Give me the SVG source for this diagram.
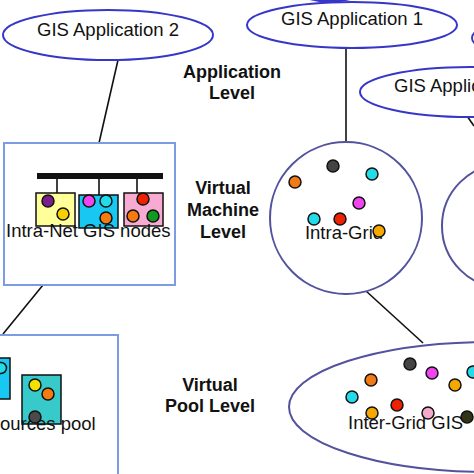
<svg xmlns="http://www.w3.org/2000/svg" width="474" height="474" viewBox="0 0 474 474">
<style>
.app{fill:#fff;stroke:#3636c8;stroke-width:2}
.grid{fill:#fff;stroke:#52529e;stroke-width:2}
.pool{fill:#fff;stroke:#7b9be2;stroke-width:2}
.lbl{font-family:"Liberation Sans",Arial,sans-serif;font-size:18.5px;fill:#111}
.lvl{font-family:"Liberation Sans",Arial,sans-serif;font-size:18px;font-weight:bold;fill:#111;text-anchor:middle}
.dot{stroke:#111;stroke-width:1.5}
.box{stroke:#111;stroke-width:1.5}
.ln{stroke:#111;stroke-width:1.6;fill:none}
</style>
<rect width="474" height="474" fill="#fff"/>
<g id="connectors">
<line class="ln" x1="118" y1="60" x2="99" y2="143"/>
<line class="ln" x1="346" y1="48" x2="346" y2="143"/>
<line class="ln" x1="43" y1="285" x2="3" y2="334"/>
<line class="ln" x1="366" y1="291" x2="423" y2="343"/>
<line class="ln" x1="467" y1="116" x2="474" y2="126"/>
</g>
<g id="top-partial">
<ellipse cx="330" cy="-22" rx="44" ry="23" fill="none" stroke="#3636c8" stroke-width="3"/>
<ellipse cx="562" cy="38" rx="90" ry="22" class="app"/>
</g>
<g id="app2">
<ellipse cx="108" cy="35" rx="105" ry="25" class="app"/>
<text class="lbl" x="108" y="36" text-anchor="middle">GIS Application 2</text>
</g>
<g id="app1">
<ellipse cx="352" cy="25" rx="105" ry="23" class="app"/>
<text class="lbl" x="352" y="25" text-anchor="middle">GIS Application 1</text>
</g>
<g id="app3">
<ellipse cx="470" cy="92" rx="110" ry="25" class="app"/>
<text class="lbl" x="394" y="92">GIS Applic</text>
</g>
<g id="level-labels">
<text class="lvl" x="232" y="78">Application</text>
<text class="lvl" x="232" y="99">Level</text>
<text class="lvl" x="223" y="194">Virtual</text>
<text class="lvl" x="223" y="216">Machine</text>
<text class="lvl" x="223" y="238">Level</text>
<text class="lvl" x="210" y="391">Virtual</text>
<text class="lvl" x="210" y="412">Pool Level</text>
</g>
<g id="intranet">
<rect x="4" y="143" width="171" height="142" class="pool"/>
<rect x="37" y="173" width="126" height="6" fill="#111"/>
<line class="ln" x1="57" y1="179" x2="57" y2="193"/>
<line class="ln" x1="99" y1="179" x2="99" y2="195"/>
<line class="ln" x1="137" y1="179" x2="137" y2="193"/>
<rect x="36" y="193" width="39" height="33" fill="#ffff99" class="box"/>
<rect x="79" y="195" width="39" height="33" fill="#19c8f2" class="box"/>
<rect x="124" y="193" width="39" height="33" fill="#f7abd2" class="box"/>
<circle cx="48" cy="201" r="6" fill="#7a1e8c" class="dot"/>
<circle cx="63" cy="214" r="6" fill="#f7d000" class="dot"/>
<circle cx="89" cy="201" r="6" fill="#f044f0" class="dot"/>
<circle cx="106" cy="201" r="6" fill="#22dcea" class="dot"/>
<circle cx="106" cy="218" r="6" fill="#f57a10" class="dot"/>
<circle cx="143" cy="199" r="6" fill="#ee2200" class="dot"/>
<circle cx="133" cy="216" r="6" fill="#f57a10" class="dot"/>
<circle cx="153" cy="216" r="6" fill="#109a20" class="dot"/>
<text class="lbl" x="6" y="237">Intra-Net GIS nodes</text>
</g>
<g id="intragrid">
<circle cx="346" cy="218" r="76" class="grid"/>
<circle cx="333" cy="166" r="6" fill="#444" class="dot"/>
<circle cx="295" cy="182" r="6" fill="#f07a14" class="dot"/>
<circle cx="372" cy="174" r="6" fill="#22dcea" class="dot"/>
<circle cx="359" cy="203" r="6" fill="#f044f0" class="dot"/>
<circle cx="314" cy="219" r="6" fill="#22dcea" class="dot"/>
<circle cx="340" cy="219" r="6" fill="#ee2200" class="dot"/>
<text class="lbl" x="344" y="239" text-anchor="middle">Intra-Grid</text>
<circle cx="379" cy="231" r="6" fill="#f5a800" class="dot"/>
</g>
<g id="grid-right">
<circle cx="504" cy="226" r="62" class="grid"/>
</g>
<g id="resources">
<rect x="-10" y="335" width="128" height="150" class="pool"/>
<rect x="-10" y="358" width="20" height="41" fill="#19c8f2" class="box"/>
<circle cx="1" cy="368" r="5.5" fill="#22dcea" class="dot"/>
<rect x="22" y="375" width="39" height="49" fill="#38caca" class="box"/>
<circle cx="35" cy="385" r="6" fill="#f5e000" class="dot"/>
<circle cx="48" cy="394" r="6" fill="#f57a10" class="dot"/>
<text class="lbl" x="0" y="430">ources pool</text>
<circle cx="35" cy="417" r="6" fill="#4a4a4a" class="dot"/>
</g>
<g id="intergrid">
<ellipse cx="490" cy="407" rx="201" ry="65" class="grid"/>
<circle cx="410" cy="364" r="6" fill="#444" class="dot"/>
<circle cx="432" cy="373" r="6" fill="#f044f0" class="dot"/>
<circle cx="473" cy="372" r="6" fill="#22dcea" class="dot"/>
<circle cx="371" cy="380" r="6" fill="#f07a14" class="dot"/>
<circle cx="455" cy="385" r="6" fill="#f5a800" class="dot"/>
<circle cx="352" cy="397" r="6" fill="#22dcea" class="dot"/>
<circle cx="397" cy="405" r="6" fill="#ee2200" class="dot"/>
<text class="lbl" x="348" y="429">Inter-Grid GIS</text>
<circle cx="372" cy="413" r="6" fill="#f5a800" class="dot"/>
<circle cx="428" cy="413" r="6" fill="#f5aacc" class="dot"/>
<circle cx="467" cy="417" r="6" fill="#333315" class="dot"/>
</g>
</svg>
